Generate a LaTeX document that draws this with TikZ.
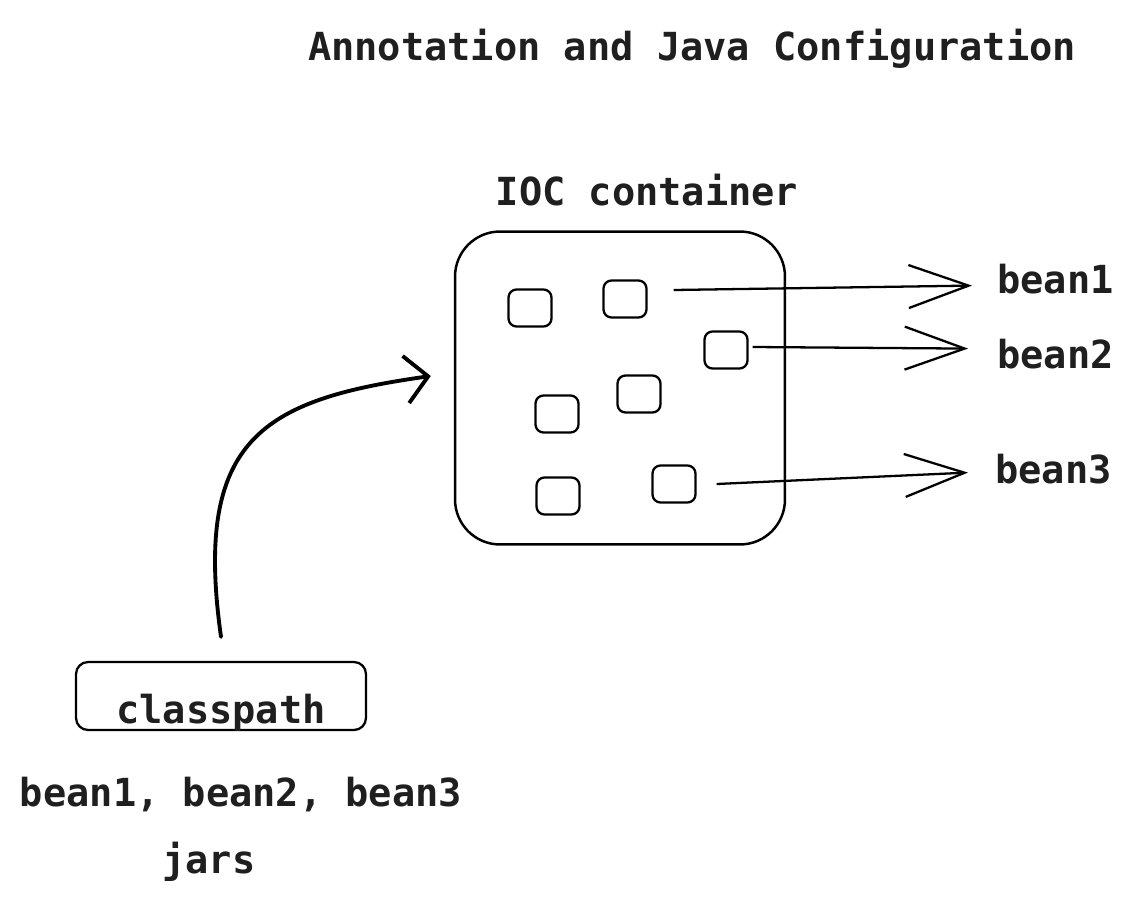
\documentclass[tikz,border=0pt]{standalone}
\usepackage{fontspec}
\usepackage{tikz}
\usetikzlibrary{arrows.meta}
\setmonofont{DejaVu Sans Mono}

\begin{document}
\begin{tikzpicture}[
  x=0.02cm, y=-0.02cm,
  txt/.style={font=\ttfamily\bfseries\fontsize{22}{26}\selectfont,inner sep=0pt,text=black!88},
  sq/.style={draw,rounded corners=0.16cm,minimum width=0.86cm,minimum height=0.74cm,inner sep=0pt,line width=1.3pt},
  bigbox/.style={draw,rounded corners=0.9cm,minimum width=6.6cm,minimum height=6.26cm,inner sep=0pt,line width=1.4pt},
  outarrow/.style={-{Straight Barb[length=1.2cm,width=0.86cm,line width=1.3pt]},line width=1.3pt},
  inarrow/.style={-{Straight Barb[length=0.45cm,width=0.95cm,line width=2.2pt]},line width=2.2pt,line cap=round}
]
  \useasboundingbox (0,0) rectangle (1133,906);
  \node[txt,anchor=base] (title) at (692,60) {Annotation and Java Configuration};
  \node[txt,anchor=base] (ioclbl) at (647,205) {IOC container};
  \node[bigbox] (ioc) at (620,388) {};
  \node[sq] (sq1) at (530,308) {};
  \node[sq] (sq2) at (625,299) {};
  \node[sq] (sq3) at (726,350) {};
  \node[sq] (sq4) at (557,414) {};
  \node[sq] (sq5) at (639,394) {};
  \node[sq] (sq6) at (558,496) {};
  \node[sq] (sq7) at (674,484) {};
  \node[txt,anchor=base west] (lbl1) at (997,293) {bean1};
  \node[txt,anchor=base west] (lbl2) at (997,368) {bean2};
  \node[txt,anchor=base west] (lbl3) at (995,483) {bean3};
  \draw[outarrow] ([xshift=0.52cm,yshift=0.18cm]sq2.east) -- ([xshift=-0.5cm,yshift=-0.14cm]lbl1.west);
  \draw[outarrow] ([xshift=0.08cm,yshift=0.06cm]sq3.east) -- ([xshift=-0.58cm,yshift=0.1cm]lbl2.west);
  \draw[outarrow] ([xshift=0.4cm]sq7.east) -- ([xshift=-0.54cm,yshift=-0.08cm]lbl3.west);
  \node[draw,rounded corners=0.24cm,minimum width=5.8cm,minimum height=1.36cm,line width=1.3pt] (cp) at (221,696) {};
  \node[txt,anchor=base] (cplbl) at (221,723) {classpath};
  \draw[inarrow] ([yshift=0.48cm]cp.north) .. controls +(98:4cm) and +(188:3.4cm) .. ([xshift=-0.46cm,yshift=0.24cm]ioc.west);
  \node[txt,anchor=base] (jars1) at (241,806) {bean1, bean2, bean3};
  \node[txt,anchor=base] (jars2) at (209,873) {jars};
\end{tikzpicture}
\end{document}
